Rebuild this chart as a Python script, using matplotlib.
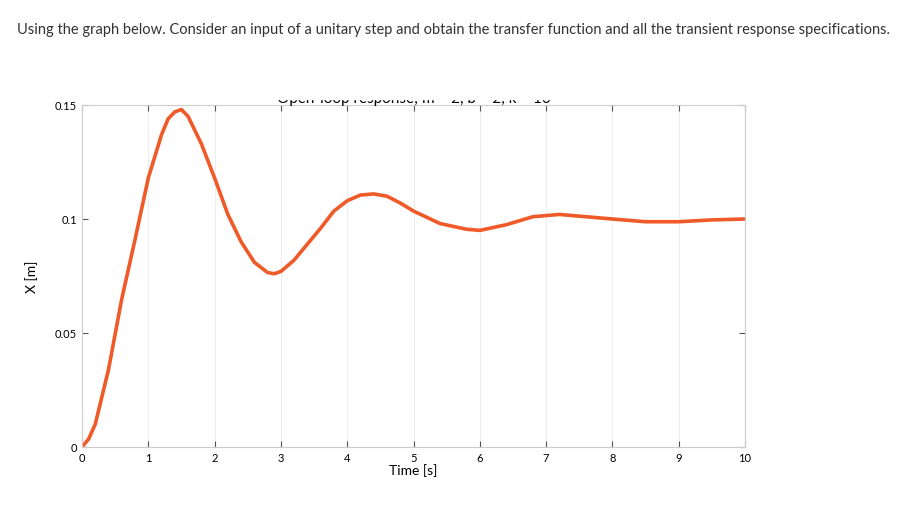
import matplotlib.pyplot as plt
from matplotlib.patches import Rectangle

# step response
t = [0, 0.1, 0.2, 0.4, 0.6, 0.8, 1.0, 1.2, 1.3, 1.4, 1.5, 1.6, 1.8, 2.0, 2.2, 2.4, 2.6, 2.8, 2.9, 3.0,
     3.2, 3.4, 3.6, 3.8, 4.0, 4.2, 4.4, 4.6, 4.8, 5.0, 5.4, 5.8, 6.0, 6.4, 6.8, 7.2, 7.6,
     8.0, 8.5, 9.0, 9.5, 10]
x = [0, 0.0035, 0.01, 0.034, 0.065, 0.091, 0.118, 0.137, 0.144, 0.147, 0.148, 0.145, 0.133, 0.118,
     0.102, 0.090, 0.081, 0.0765, 0.076, 0.077, 0.082, 0.089, 0.096, 0.1035, 0.108, 0.1105, 0.111,
     0.110, 0.107, 0.1035, 0.098, 0.0955, 0.095, 0.0975, 0.101, 0.102, 0.101, 0.100, 0.0988,
     0.0988, 0.0996, 0.100]
xticks = [0, 1, 2, 3, 4, 5, 6, 7, 8, 9, 10]
yticks = [0, 0.05, 0.1, 0.15]
ylabels = ['0', '0.05', '0.1', '0.15']

plt.rcParams['font.family'] = ['Lato', 'DejaVu Sans']

fig = plt.figure(figsize=(9.06, 5.10), dpi=100)
ax = fig.add_axes([82/906, 1-448/510, 663/906, 342/510])

ax.plot(t, x, color='#f05a28', linewidth=2.6, solid_joinstyle='round')
ax.set_xlim(0, 10)
ax.set_ylim(0, 0.15)
ax.set_xticks(xticks)
ax.set_yticks(yticks)
ax.set_yticklabels(ylabels)
ax.grid(axis='x', color='#eeeeee', linewidth=0.8)
ax.tick_params(labelsize=8, color='#555555', direction='in', length=4, top=True, right=True)
for s in ax.spines.values():
    s.set_color('#cccccc')
ax.set_xlabel('Time [s]', fontsize=10, labelpad=0)
ax.set_ylabel('X [m]', fontsize=10, labelpad=12)
ax.set_title('Open-loop response; m = 2, b = 2, k = 10', fontsize=11, pad=2)

# title is cut off at the top in the screenshot
fig.add_artist(Rectangle((0, 1-100/510), 1, 40/510, transform=fig.transFigure,
                         color='white', zorder=10))

fig.text(17/906, 1-30/510,
         'Using the graph below. Consider an input of a unitary step and obtain the transfer '
         'function and all the transient response specifications.',
         fontsize=10.5, color='#333333', va='center')

fig.savefig('out.png')
